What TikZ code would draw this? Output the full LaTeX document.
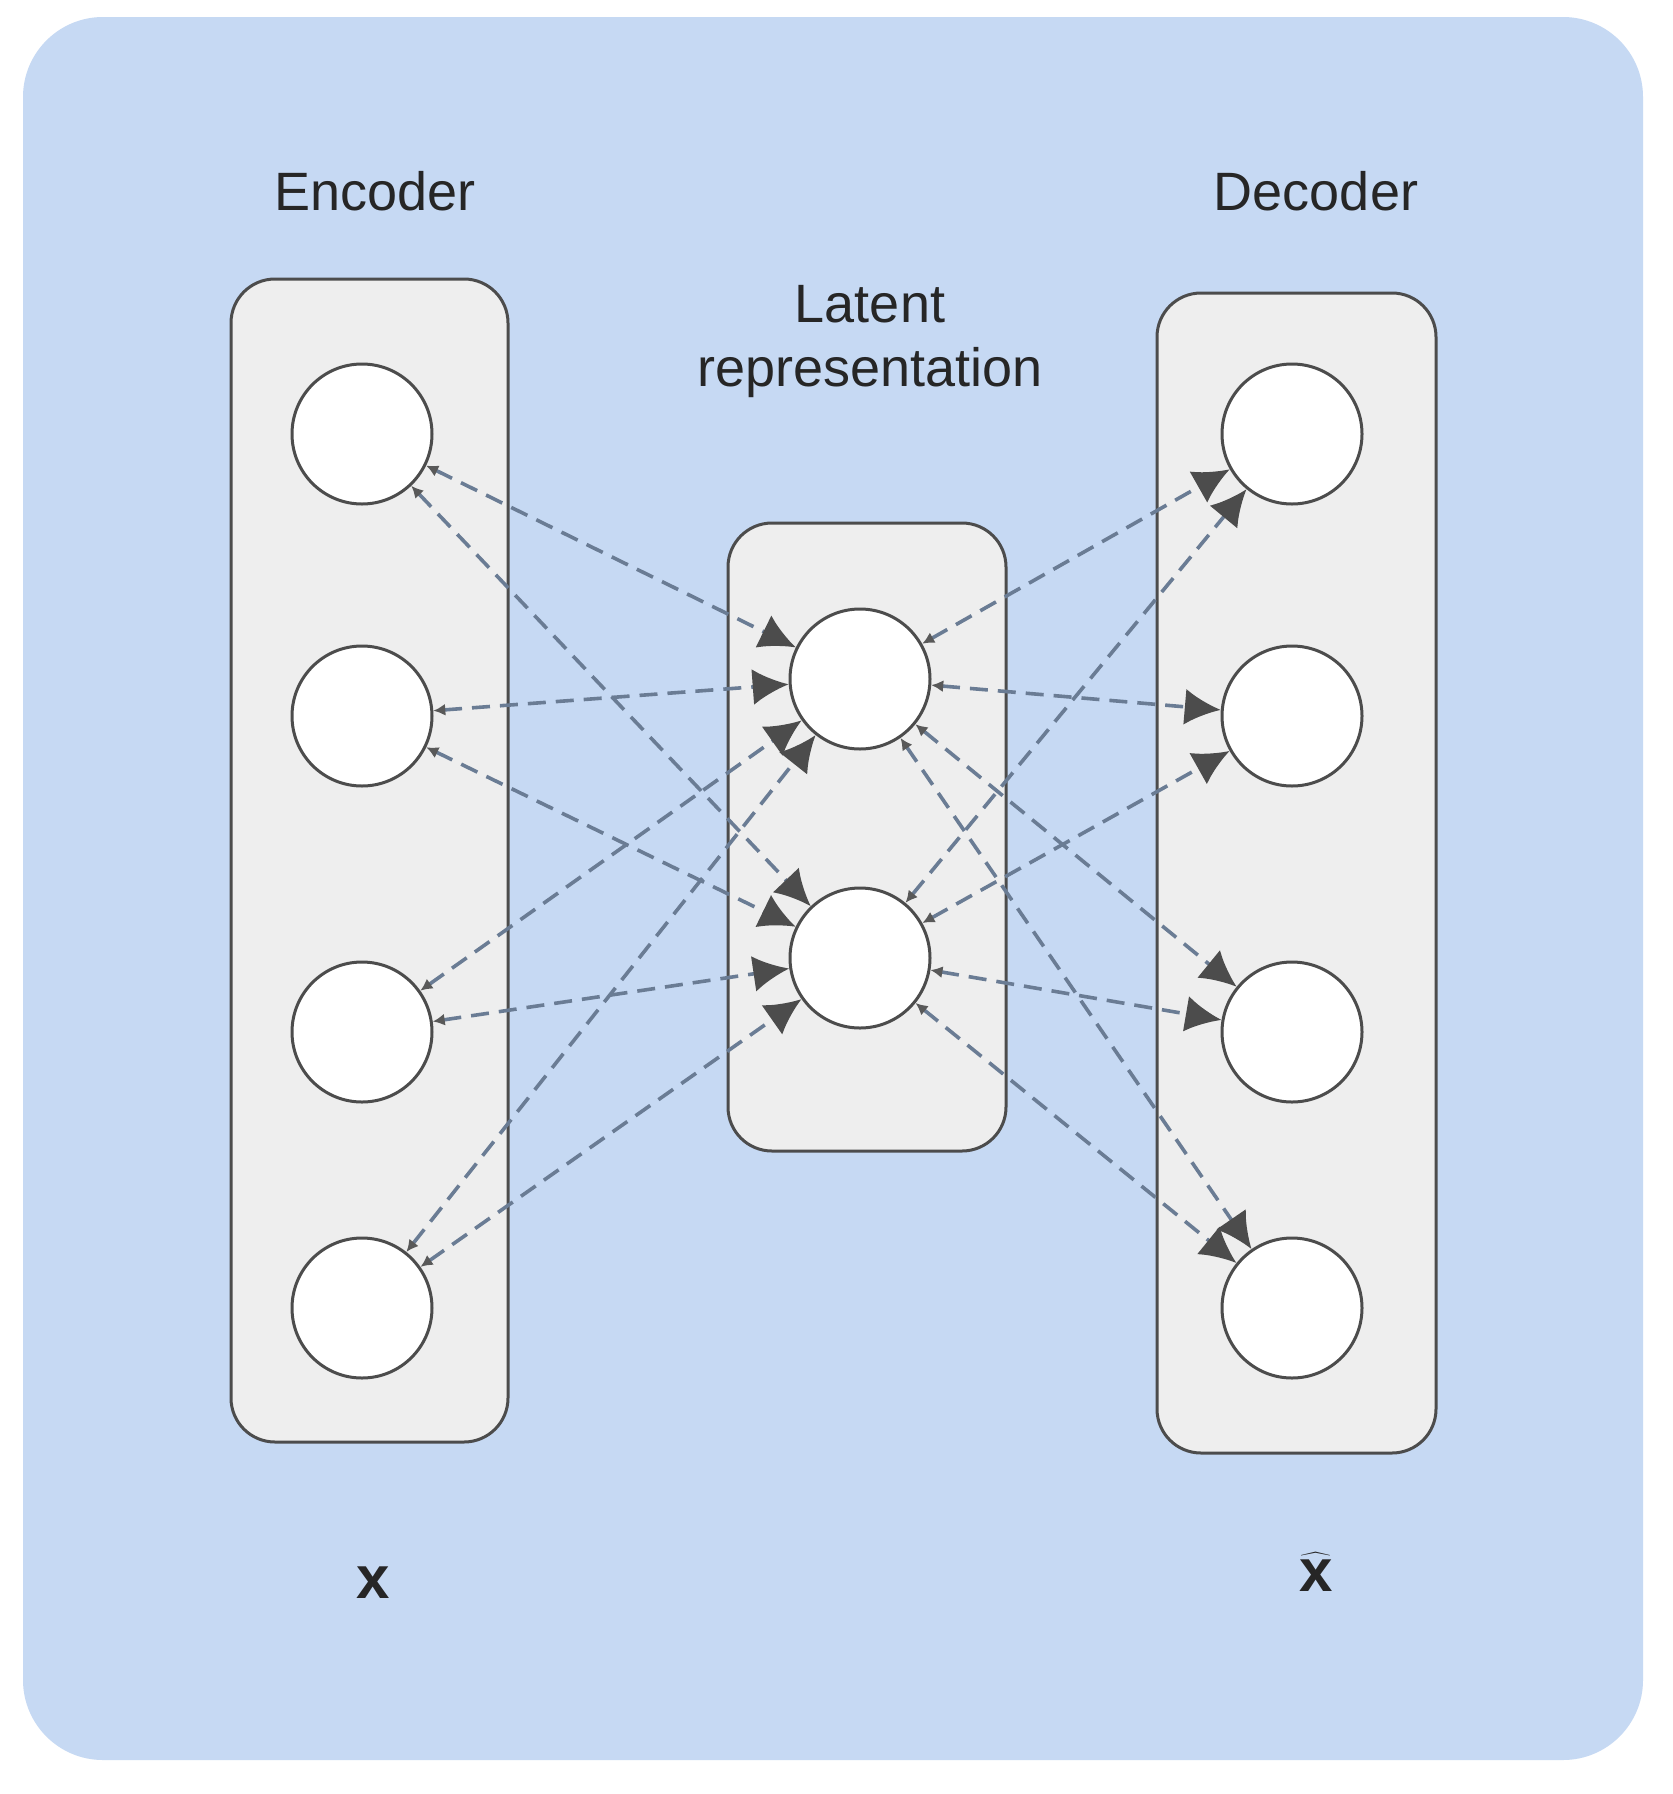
\documentclass[tikz,border=0pt]{standalone}
\usepackage{fontspec}
\setmainfont{Liberation Sans}
\usetikzlibrary{arrows.meta}
\definecolor{bg}{HTML}{C6D9F3}
\definecolor{boxf}{HTML}{EEEEEE}
\definecolor{edge}{HTML}{6A7C94}
\begin{document}
\begin{tikzpicture}[x=0.5pt,y=-0.5pt,
  box/.style={draw=black!70,line width=1.5pt,fill=boxf,rounded corners=22pt},
  neur/.style={circle,draw=black!70,line width=1.5pt,fill=white,minimum size=70pt,inner sep=0pt},
  lbl/.style={font=\fontsize{27}{32}\selectfont,text=black!85,align=center},
  con/.style={draw=edge,line width=1.8pt,dash pattern=on 9pt off 5pt,
     {Latex[length=6pt,width=6pt,color=black!65]}-{Latex[length=18pt,width=18pt,color=black!70]}}]
\useasboundingbox (0,0) rectangle (1672,1794);
\fill[white] (0,0) rectangle (1672,1794);
\fill[bg,rounded corners=40pt] (23,17) rectangle (1643,1760);
\draw[box] (231,279) rectangle (508,1442);
\draw[box] (728,523) rectangle (1006,1151);
\draw[box] (1157,293) rectangle (1436,1453);
\node[lbl] (le) at (375,191) {Encoder};
\node[lbl] (ld) at (1316,191) {Decoder};
\node[lbl] (ll) at (870,342) {Latent\\representation};
\node[lbl,font=\fontsize{30}{34}\selectfont\bfseries] (lx) at (373,1583) {x};
\node[lbl,font=\fontsize{30}{34}\selectfont\bfseries,inner sep=1pt] (lxh) at (1316,1572) {$\widehat{\textbf{x}}$};
\foreach \i/\y in {1/434,2/716,3/1032,4/1308}{
  \node[neur] (e\i) at (362,\y) {};
  \node[neur] (d\i) at (1292,\y) {};}
\node[neur] (z1) at (860,679) {};
\node[neur] (z2) at (860,958) {};
\foreach \i in {1,2,3,4}{
  \foreach \j in {1,2}{
    \draw[con] (e\i) -- (z\j);
    \draw[con] (z\j) -- (d\i);}}
\end{tikzpicture}
\end{document}
